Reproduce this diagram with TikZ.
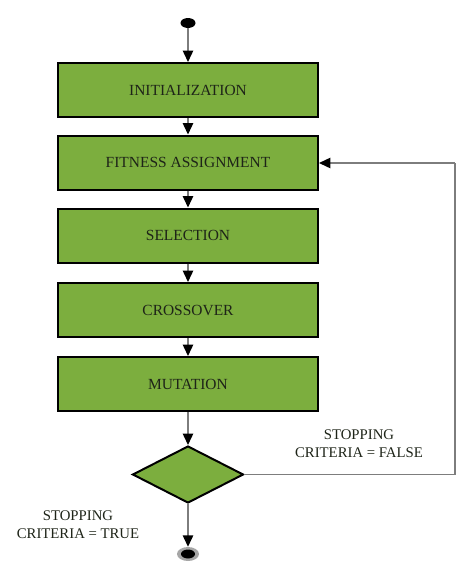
\documentclass[tikz,border=0pt]{standalone}
\usepackage{fontspec}
\setmainfont{Liberation Serif}
\usetikzlibrary{shapes.geometric,arrows.meta}

\definecolor{boxgreen}{RGB}{124,174,62}
\definecolor{linegray}{RGB}{125,125,125}
\definecolor{textdark}{RGB}{30,36,24}

\tikzset{
  stagebox/.style={draw=black, line width=1.7pt, fill=boxgreen, text=textdark,
    minimum width=7.8cm, minimum height=1.62cm, inner sep=0pt,
    font=\fontsize{13.2}{15}\selectfont},
  checkbox/.style={draw=black, line width=1.7pt, fill=boxgreen, shape=diamond,
    minimum width=3.33cm, minimum height=1.71cm, inner sep=0pt},
  flow/.style={draw=linegray, line width=1.2pt,
    -{Triangle[color=black,length=3.4mm,width=3.1mm]}},
  back/.style={draw=linegray, line width=1.2pt},
  note/.style={align=center, text=textdark, font=\fontsize{12.6}{15.5}\selectfont}
}

\begin{document}
\begin{tikzpicture}[x=0.03cm,y=-0.03cm]
        \useasboundingbox (0,0) rectangle (474,577);

        % start and end
        \node[ellipse, fill=black, minimum width=0.45cm, minimum height=0.3cm, inner sep=0pt] (start) at (188,23) {};
        \node[ellipse, fill=gray!70, minimum width=0.66cm, minimum height=0.42cm, inner sep=0pt] (stop) at (188,554) {};
        \node[ellipse, fill=black, minimum width=0.42cm, minimum height=0.27cm, inner sep=0pt] at (stop) {};

        % stages
        \node[stagebox] (init) at (188,90) {INITIALIZATION};
        \node[stagebox] (fit) at (188,162.5) {FITNESS ASSIGNMENT};
        \node[stagebox] (sel) at (188,235.5) {SELECTION};
        \node[stagebox] (cross) at (188,310) {CROSSOVER};
        \node[stagebox] (mut) at (188,384) {MUTATION};
        \node[checkbox] (check) at (188,474.5) {};

        % labels
        \node[note] (falsetxt) at (359,444) {STOPPING\\CRITERIA = FALSE};
        \node[note] (truetxt) at (78,525) {STOPPING\\CRITERIA = TRUE};

        % connectors
        \draw[flow] (start) -- (init);
        \draw[flow] (init) -- (fit);
        \draw[flow] (fit) -- (sel);
        \draw[flow] (sel) -- (cross);
        \draw[flow] (cross) -- (mut);
        \draw[flow] (mut) -- (check);
        \draw[flow] (check) -- (stop);

        \coordinate (turn) at (455,163);
        \draw[back] (check.east) -| (turn);
        \draw[flow] (turn) -- (fit.east |- turn);
\end{tikzpicture}
\end{document}
